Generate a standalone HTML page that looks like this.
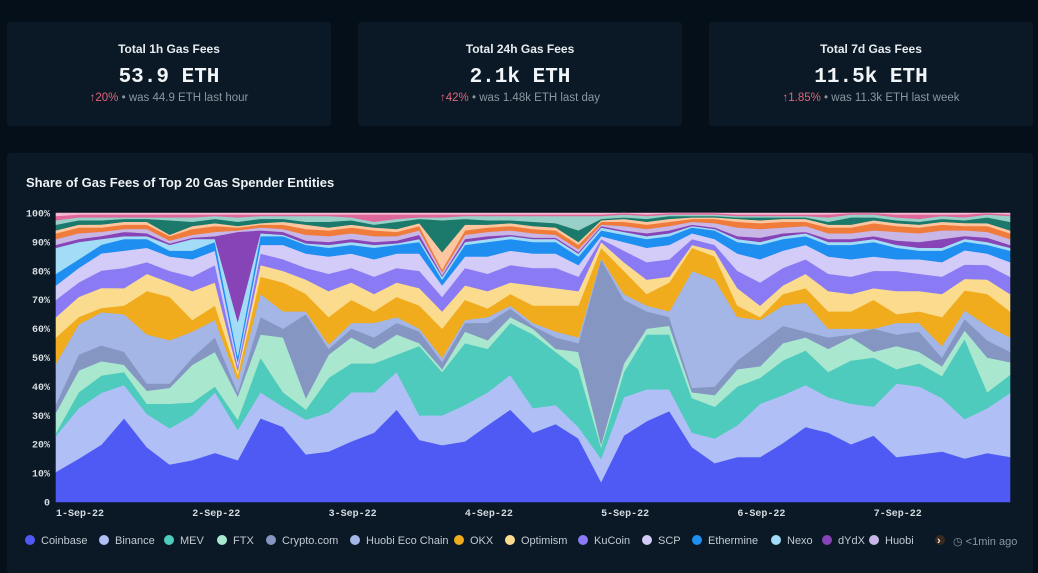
<!DOCTYPE html>
<html><head><meta charset="utf-8">
<style>
body{margin:0;width:1038px;height:567px;background:#050f19;overflow:hidden;font-family:"Liberation Sans",sans-serif;color:#e8edf2;position:relative}
.card{position:absolute;background:#0a1925;border-radius:3px}
.kpi{top:22px;height:104px;width:324px;text-align:center}
.kt{position:absolute;top:20px;left:0;right:0;font-size:12px;font-weight:bold;color:#e6ebf0}
.kv{position:absolute;top:44px;left:0;right:0;font-family:"Liberation Mono",monospace;font-weight:bold;font-size:21px;color:#f2f5f8}
.ks{position:absolute;top:70px;left:0;right:0;font-size:11.5px;color:#8c96a1}
.up{color:#e0647a}
#chartcard{left:7px;top:153px;width:1026px;height:420px}
.ct{position:absolute;left:19px;top:22px;font-size:13px;font-weight:bold;color:#eef2f5}
.lg{position:absolute;top:535px;font-size:11px;color:#c3cad2;white-space:nowrap}
.lg i{display:inline-block;width:10px;height:10px;border-radius:50%;vertical-align:-1px;margin-right:6px}
</style></head><body>
<div class="card kpi" style="left:7px">
 <div class="kt">Total 1h Gas Fees</div>
 <div class="kv">53.9 ETH</div>
 <div class="ks"><span class="up">↑20%</span> • was 44.9 ETH last hour</div>
</div>
<div class="card kpi" style="left:358px">
 <div class="kt">Total 24h Gas Fees</div>
 <div class="kv">2.1k ETH</div>
 <div class="ks"><span class="up">↑42%</span> • was 1.48k ETH last day</div>
</div>
<div class="card kpi" style="left:709px">
 <div class="kt">Total 7d Gas Fees</div>
 <div class="kv">11.5k ETH</div>
 <div class="ks"><span class="up">↑1.85%</span> • was 11.3k ETH last week</div>
</div>
<div class="card" id="chartcard">
 <div class="ct">Share of Gas Fees of Top 20 Gas Spender Entities</div>
</div>
<svg id="chart" width="1038" height="567" style="position:absolute;left:0;top:0"></svg>
<div id="legend"></div>
<script>
const categories=[];for(let h=0;h<=168;h+=4)categories.push(h);
const xTickLabels=["1-Sep-22","2-Sep-22","3-Sep-22","4-Sep-22","5-Sep-22","6-Sep-22","7-Sep-22"];
const xTickHours=[0,24,48,72,96,120,144];
const yTickValues=[0,10,20,30,40,50,60,70,80,90,100];
const seriesNames=["Coinbase","Binance","MEV","FTX","Crypto.com","Huobi Eco Chain","OKX","Optimism","KuCoin","SCP","Ethermine","Nexo","dYdX","Huobi","Other A","Other B","Other C","Other D","Other E","Other F"];
const seriesColors=["#4f5af5","#b0c0f7","#4ecbbc","#a9e7cf","#8596c2","#a3b6e6","#f0ac1c","#fbdb8d","#8a7af4","#d3cbf8","#1e8ef0","#a2dcf7","#8744b6","#c8b6e6","#f07c3c","#fcc7a0","#1b7a6b","#98cfc6","#e0679c","#f5b8d0"];
const coinbase=[10.5,15,20,29,19,13,14.5,17,14.5,29,26,16.5,17.5,21,24,32,21.5,19.7,21,26.6,32,24,27,22,7,23,28,31.5,19,13.5,15.6,15.6,20.4,26,24,20,23,15.6,16.5,17.5,15.2,17,15.6];
const binance=[12.5,17.5,18,11.5,11.5,12.5,15.5,21,10.5,9,7,12,13.5,17,14,13,8.5,10.3,12.6,11.4,12,8.5,6.6,4,8,13.3,11,7.5,5,8.5,11,18.4,16.6,14.5,12.3,14,10,25.4,23.5,18.5,13.8,15.5,22.1];
const mev=[1,5.5,6,4.5,3.5,8.5,4.5,2,3.5,12,5,3.5,12,10,10,6,24,15,21.4,15,18,25.5,18.4,20,4,8.7,19,19,12,11,13.4,9,12,12,8.7,15,17,5,8,7.6,28,5.5,6.3];
const ftx=[7,7.5,5,2.5,4.5,5.5,13,12,8,8,19,4,8,9,5,7,1,1,4,3,2,2,1,6,1,3,2,3,2,4,6,4,6,4.5,8,8,2,8,4,3.4,3,12,4.4];
const cryptoCom=[3,5.5,5.5,4.5,2.5,1.5,2.5,5,1.5,6,3,29,2,3,4,4,4,2.5,3,6,3,1,4,3,64,22,6,3,1.5,3,3,8,6,2,4,1,8,4,7,3,4,6,3.6];
const huobiEco=[14,10.5,11.5,13,17,15,9,6,4,8,6,1,1.5,2,5,2,1,1.5,1,2,1,1,2,2,0.5,2,2,2,40.5,37,15,8,7,10,3,2,0,4,3,4,3,5,5];
const okx=[9,2.5,1.5,3,15,15,4,5,2,6,10,6,9.5,8,4,7,8,10,7,3,4,6,9,11,3.5,8,4,10,8,8,4,1,4,5,6,6,10,3,4,10,7,11,9];
const optimism=[7,7,7,6,6,5,10,8,1.5,4,4,5,9,6,6,5,6,6,5,6,4,7,6,5,2,3,5,2,1,2,6,4,3,5,7,6,4,8,7,8,4,5,6];
const kucoin=[6,5,6,7,4,4,5,6,1.5,4,4,4,6,5,6,5,6,5,6,6,6,6,7,5,1,4,6,6,2,2,6,8,6,5,6,6,6,7,6,6,5,5,6];
const scp=[5,5,6,6,5,5,6,5,1.5,3,5,5,6,5,6,5,6,4,4,6,5,5,5,4,1,3,5,5,2,2,6,8,6,5,6,6,5,4,5,5,5,4,5];
const ethermine=[4,3,3,4,3,2,3,3,2,3,3,3,3,3,4,3,4,2,4,5,4,4,4,3,2,2.5,3,3,2,3,4,5,4,3,4,5,5,4,3,4,3,3,4];
const nexo=[9,6,2,1,1,2,4,1,12,1,0.5,0.5,1,1,1,0.5,1,1,1,1,1,1,1,1,1,1,1,1,0.5,0.5,1,1,1,1,1,1,1,1,1,1,1,1,1];
const dydx=[1,1,1,1.5,1,0.5,0.5,1,31,1,1,1,1,1,1,1,1.5,0.5,1,1,0.5,0.5,0.5,0.5,0.5,0.5,1,1,0.5,0.5,1,1.5,1,0.5,1,1,1,1.5,2,3,1,1.5,1];
const huobi=[2,2,1.5,1,1.5,1,1,1.5,0.5,1,1,2,2,2,2,1.5,1.5,1,1.5,1.5,1.5,1.5,1,1,0.5,1.5,1.5,1.5,1,1.5,3,3,2,2,2,2,2,3,3,3,2,2,2];
const otherA=[2,2,1.5,1.5,1.5,1.5,2,2,1,1,1.5,2,2,2,2,1.5,1.5,1,1.5,1.5,1.5,1.5,1.5,1.5,1,1.5,1.5,1.5,1,1.5,2,2,2,1.5,2,2,2.5,2,2,2,1.5,2,2];
const otherB=[1,1,1,1,1,0.5,1,1,0.5,0.5,1,1.5,1,1,1,1,1,6,2,1,1,1,1,1,0.5,1,1,1,0.5,0.5,1,1,1,1,1,1,1,1,1,1,1,1,1];
const otherC=[2,1.5,1.5,1,1,5,1.5,1.5,1.5,1.5,1,1,2,1.5,1,2.5,1.5,11,2,1.5,1,1.5,1.5,4,0.5,0.5,1,1,0.5,0.5,0.5,1,0.5,0.5,1,2.5,1,1,1,1,1,2,3];
const otherD=[1.5,1,1,0.5,0.5,1,1.5,1,1.5,1,1,2,2,1,1,1,0.5,1,1,1.5,1.5,2,2.5,5,1,1,1,0.5,0.5,0.5,0.5,0.5,0.5,0.5,1.5,1,1,1,1,1,1,1,2];
const otherE=[1.5,1,1,1,1,1,1,0.5,1,0.5,0.5,0.5,0.5,1,2.5,1.5,1,1,0.5,0.5,0.5,0.5,0.5,0.5,0.5,0.5,0.5,0.5,0.5,0.5,0.5,0.5,0.5,0.5,1,0.5,0.5,1,1.5,0.5,1,0.5,0.5];
const otherF=[1,0.5,0.5,0.5,0.5,0.5,0.5,0.5,0.5,0.5,0.5,0.5,0.5,0.5,0.5,0.5,0.5,0.5,0.5,0.5,0.5,0.5,0.5,0.5,0.5,0,0.5,0,0,0,0.5,0.5,0.5,0.5,0.5,0,0,0.5,0.5,0.5,0.5,0,0.5];
const seriesValues=[coinbase,binance,mev,ftx,cryptoCom,huobiEco,okx,optimism,kucoin,scp,ethermine,nexo,dydx,huobi,otherA,otherB,otherC,otherD,otherE,otherF];

const NS="http://www.w3.org/2000/svg";
const svg=document.getElementById('chart');
const X0=56,X1=1010,Y0=502,Y1=213;
const xMax=categories[categories.length-1];
const xs=h=>X0+(X1-X0)*h/xMax;
const ys=p=>Y0-(Y0-Y1)*p/100;
function mk(t,a){const e=document.createElementNS(NS,t);for(const k in a)e.setAttribute(k,a[k]);svg.appendChild(e);return e;}
// totals
const totals=categories.map((_,i)=>seriesValues.reduce((s,a)=>s+(a[i]||0),0));
let base=categories.map(()=>0);
seriesValues.forEach((arr,si)=>{
  const top=base.map((b,i)=>b+(arr[i]||0)/totals[i]*100);
  let d="";
  categories.forEach((c,i)=>{d+=(i?"L":"M")+xs(c).toFixed(1)+","+ys(top[i]).toFixed(1);});
  for(let i=categories.length-1;i>=0;i--)d+="L"+xs(categories[i]).toFixed(1)+","+ys(base[i]).toFixed(1);
  d+="Z";
  const p=mk('path',{d:d,fill:seriesColors[si],stroke:seriesColors[si],'stroke-width':'0.6'});
  
  
  base=top;
});
yTickValues.forEach(v=>{
  const t=mk('text',{x:50,y:ys(v)+3.5,'text-anchor':'end','font-family':'Liberation Mono, monospace','font-size':'10','font-weight':'bold',fill:'#d6dbe0'});
  t.textContent=v===0?'0':v+'%';
  
  
});
xTickLabels.forEach((l,i)=>{
  const t=mk('text',{x:xs(xTickHours[i]),y:516,'font-family':'Liberation Mono, monospace','font-size':'10','font-weight':'bold',fill:'#d6dbe0'});
  t.textContent=l;
  
  
});
const legendX=[25,99,164,217,266,350,454,505,578,642,692,771,822,869];
const lg=document.getElementById('legend');
for(let i=0;i<14;i++){
  const d=document.createElement('div');d.className='lg';d.style.left=legendX[i]+'px';
  d.innerHTML='<i style="background:'+seriesColors[i]+'"></i>'+seriesNames[i];
  
  
  lg.appendChild(d);
}
</script>
<div class="lg" style="left:935px;color:#e8e8e8"><span style="display:inline-block;width:10px;height:10px;border-radius:50%;background:#3a2a1e;vertical-align:-1px"></span><span style="margin-left:-8px;font-weight:bold">›</span></div>
<div class="lg" style="left:953px;color:#8c96a1">◷ &lt;1min ago</div>
</body></html>
